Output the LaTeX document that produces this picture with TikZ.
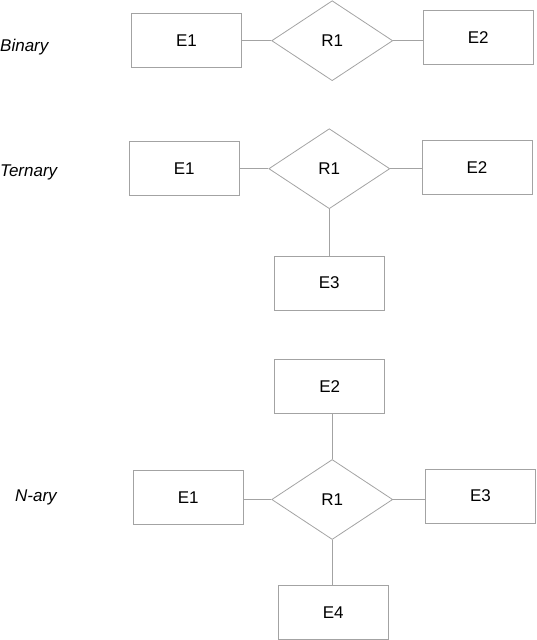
\documentclass[tikz,border=0pt]{standalone}
\usepackage{fontspec}
\setmainfont{Liberation Sans}
\usetikzlibrary{shapes.geometric}
\definecolor{lg}{HTML}{A3A3A3}
\begin{document}
\begin{tikzpicture}[x=1pt,y=-1pt,
  every node/.style={font=\fontsize{17}{20}\selectfont, text=black},
  ent/.style={draw=lg, line width=0.9pt, rectangle, minimum width=110pt, minimum height=54pt, inner sep=0pt},
  rel/.style={draw=lg, line width=0.8pt, diamond, minimum width=121pt, minimum height=80pt, inner sep=0pt},
  lbl/.style={anchor=base west, inner sep=0pt, font=\fontsize{17}{20}\selectfont\itshape},
  conn/.style={draw=lg, line width=0.8pt}]
\useasboundingbox (0,0) rectangle (536,640);

% Binary
\node[lbl] (lb) at (0,51.7) {Binary};
\node[ent] (be1) at (186.5,40.3) {E1};
\node[rel] (br) at (332.2,40.7) {R1};
\node[ent] (be2) at (478.2,37.3) {E2};
\draw[conn] (br.west -| be1.east) -- (br.west);
\draw[conn] (br.east) -- (br.east -| be2.west);

% Ternary
\node[lbl] (lt) at (0,176.7) {Ternary};
\node[ent] (te1) at (184.3,168.3) {E1};
\node[rel] (tr) at (329.3,168.7) {R1};
\node[ent] (te2) at (477,167.3) {E2};
\node[ent] (te3) at (329.3,283) {E3};
\draw[conn] (tr.west -| te1.east) -- (tr.west);
\draw[conn] (tr.east) -- (tr.east -| te2.west);
\draw[conn] (tr.south) -- (te3.north);

% N-ary
\node[lbl] (ln) at (15,501.7) {N-ary};
\node[ent] (ne2) at (329.8,386.3) {E2};
\node[ent] (ne1) at (188.3,497.7) {E1};
\node[rel] (nr) at (332.2,499.5) {R1};
\node[ent] (ne3) at (480.5,496) {E3};
\node[ent] (ne4) at (333.2,612.3) {E4};
\draw[conn] (nr.west -| ne1.east) -- (nr.west);
\draw[conn] (nr.east) -- (nr.east -| ne3.west);
\draw[conn] (nr.north) -- (nr.north |- ne2.south);
\draw[conn] (nr.south) -- (nr.south |- ne4.north);
\end{tikzpicture}
\end{document}
